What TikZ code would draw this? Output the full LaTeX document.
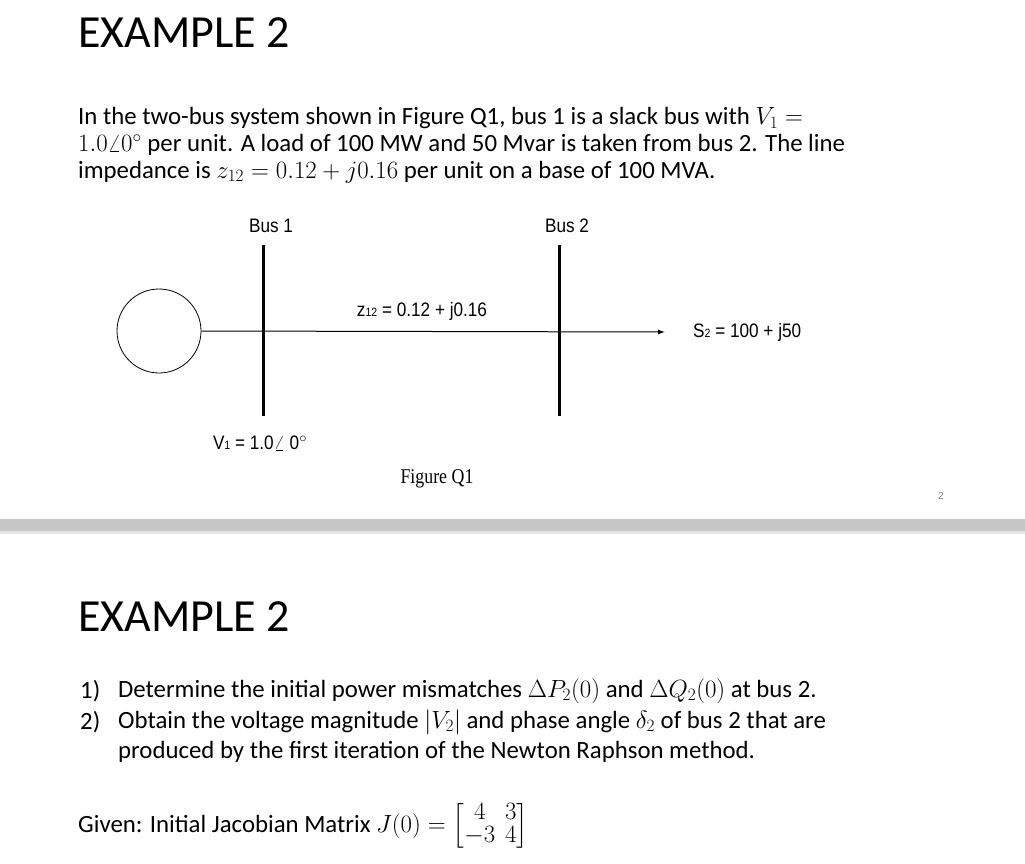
\documentclass[tikz,border=0pt]{standalone}
\usepackage{amsmath}
\usepackage{fontspec}
\setmainfont{Carlito}
\newfontfamily\diag{Liberation Sans}
\newfontfamily\serifq{Liberation Serif}
\usetikzlibrary{arrows.meta,shapes.geometric}
\tikzset{
 body/.style={anchor=west,inner sep=0pt,font=\fontsize{24.8}{28}\selectfont},
 ttl/.style={anchor=west,inner sep=0pt,font=\fontsize{46}{48}\selectfont},
 lbl/.style={inner sep=0pt,font=\diag\fontsize{19.5}{21}\selectfont\addfontfeatures{FakeStretch=0.88}},
 bus/.style={line width=3pt},
}
\newcommand{\sbs}[1]{{\fontsize{12}{12}\selectfont #1}}
\begin{document}
\begin{tikzpicture}[x=1pt,y=-1pt]
\useasboundingbox[fill=white] (0,0) rectangle (1025,864);
\fill[gray!45] (0,519) rectangle (1025,531);
\fill[gray!20] (0,531) rectangle (1025,534);
\node[ttl] (t1) at (78,33) {EXAMPLE 2};
\node[body] (p1) at (78,118) {In the two-bus system shown in Figure Q1, bus 1 is a slack bus with $V_1=$};
\node[body] (p2) at (78,145) {$1.0\angle 0^\circ$ per unit. A load of 100 MW and 50 Mvar is taken from bus 2. The line};
\node[body] (p3) at (78,172) {impedance is $z_{12}=0.12+j0.16$ per unit on a base of 100 MVA.};
\node[lbl] (b1l) at (271,226) {Bus 1};
\node[lbl] (b2l) at (567,226) {Bus 2};
\coordinate (b1t) at (263,245); \coordinate (b1b) at (263,416);
\coordinate (b2t) at (559,245); \coordinate (b2b) at (559,416);
\draw[bus] (b1t) -- (b1b);
\draw[bus] (b2t) -- (b2b);
\node[draw,circle,minimum size=84pt,inner sep=0pt,line width=0.8pt] (gen) at (159,331) {};
\coordinate (load) at (665,332);
\draw[line width=1pt,-{Latex[length=7pt,width=5pt]}] (gen.east) -- (load);
\node[lbl] (z) at (422,311) {z\sbs{12} = 0.12 + j0.16};
\node[lbl,anchor=west] (s) at (693,332) {S\sbs{2} = 100 + j50};
\node[lbl] (v) at (260,443) {V\sbs{1} = 1.0$\angle$ 0$^\circ$};
\node[inner sep=0pt,font=\serifq\fontsize{21}{22}\selectfont\addfontfeatures{FakeStretch=0.85}] (fq) at (437,479) {Figure Q1};
\node[inner sep=0pt,font=\diag\fontsize{10}{10}\selectfont,gray] (pg) at (941,496) {2};
\node[ttl] (t2) at (78,617) {EXAMPLE 2};
\node[body] (n1) at (80,691) {1)};
\node[body] (l1) at (118,691) {Determine the initial power mismatches $\Delta P_2(0)$ and $\Delta Q_2(0)$ at bus 2.};
\node[body] (n2) at (80,722) {2)};
\node[body] (l2) at (118,722) {Obtain the voltage magnitude $|V_2|$ and phase angle $\delta_2$ of bus 2 that are};
\node[body] (l3) at (118,752) {produced by the first iteration of the Newton Raphson method.};
\node[body] (g) at (78,826) {Given: Initial Jacobian Matrix $J(0)=\left[\renewcommand\arraystretch{0.8}\begin{matrix}4 & 3\\ -3 & 4\end{matrix}\right]$};
\end{tikzpicture}
\end{document}
